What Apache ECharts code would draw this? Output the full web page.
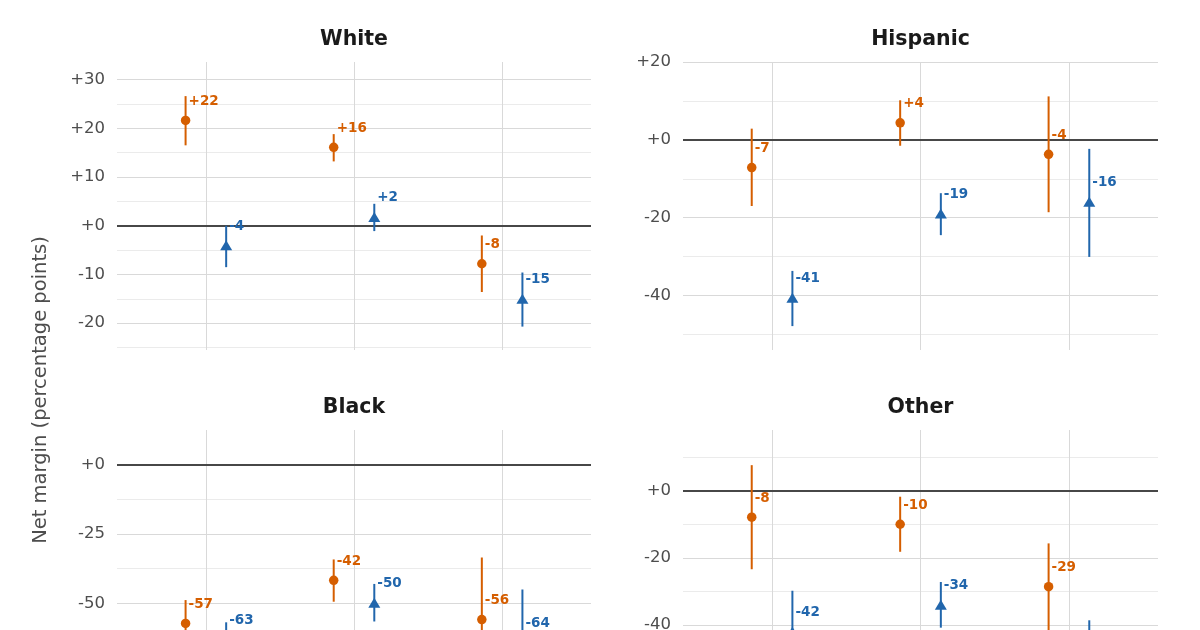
<!DOCTYPE html>
<html>
<head>
<meta charset="utf-8">
<script src="https://cdn.jsdelivr.net/npm/echarts@6/dist/echarts.min.js"></script>
<style>
html,body{margin:0;padding:0;background:#fff;overflow:hidden;width:1200px;height:630px}
#wrap{width:1200px;height:630px;overflow:hidden;position:relative}
#chart{width:1200px;height:790px}
</style>
</head>
<body>
<div id="wrap"><div id="chart"></div></div>
<script>
// ---------- data ----------
const panelTitles = ['White', 'Hispanic', 'Black', 'Other'];
const groupPositions = [1, 2, 3];
const yAxisTitle = 'Net margin (percentage points)';

// orange series (circles): estimate, lower, upper — one row per panel
const orangeMid = [[21.6, 16.1, -7.8], [-7.1, 4.4, -3.7], [-57.2, -41.7, -55.8], [-7.9, -10.0, -28.6]];
const orangeLow = [[16.5, 13.2, -13.6], [-17.0, -1.5, -18.6], [-65.6, -49.4, -78.1], [-23.4, -18.2, -41.5]];
const orangeHigh = [[26.6, 18.8, -2.0], [2.9, 10.2, 11.2], [-48.8, -34.2, -33.5], [7.6, -1.8, -15.7]];

// blue series (triangles): estimate, lower, upper — one row per panel
const blueMid = [[-4.0, 1.8, -15.0], [-40.6, -18.9, -15.9], [-63.0, -49.8, -64.0], [-42.0, -34.0, -52.0]];
const blueLow = [[-8.5, -1.1, -20.7], [-47.9, -24.5, -30.1], [-69.2, -56.5, -83.0], [-54.2, -40.8, -63.0]];
const blueHigh = [[0.0, 4.5, -9.6], [-33.7, -13.7, -2.3], [-56.8, -43.0, -45.0], [-29.8, -27.2, -38.6]];

// y axis ranges and ticks per panel
const yMin = [-25.5, -54.05, -91.2, -67.7];
const yMax = [33.6, 20.05, 12.34, 18.07];
const yMajorTicks = [[-20, -10, 0, 10, 20, 30], [-40, -20, 0, 20], [-75, -50, -25, 0], [-60, -40, -20, 0]];
const yMinorTicks = [[-25, -15, -5, 5, 15, 25], [-50, -30, -10, 10], [-87.5, -62.5, -37.5, -12.5], [-50, -30, -10, 10]];

// ---------- layout / style ----------
const ORANGE = '#D55E00';
const BLUE = '#2166AC';
const FONT = 'DejaVu Sans';
const DODGE = 0.137;
const gridBoxes = [
  { left: 117, top: 62, width: 474, height: 288 },
  { left: 683, top: 62, width: 475, height: 288 },
  { left: 117, top: 430, width: 474, height: 288 },
  { left: 683, top: 430, width: 475, height: 288 }
];
const titleY = [40, 40, 408, 408];

const fmtLabel = v => { const r = Math.round(v); return (r >= 0 ? '+' : '') + r; };

const grids = [], xAxes = [], yAxes = [], series = [], graphics = [];

panelTitles.forEach((title, i) => {
  const g = gridBoxes[i];
  grids.push({ left: g.left, top: g.top, width: g.width, height: g.height, containLabel: false });
  xAxes.push({
    type: 'value', gridIndex: i, min: 0.4, max: 3.6,
    axisLine: { show: false }, axisTick: { show: false }, axisLabel: { show: false }, splitLine: { show: false }
  });
  yAxes.push({
    type: 'value', gridIndex: i, min: yMin[i], max: yMax[i],
    axisLine: { show: false }, axisTick: { show: false }, axisLabel: { show: false }, splitLine: { show: false }
  });

  const lines = [];
  yMinorTicks[i].forEach(v => lines.push({
    yAxis: v, lineStyle: { color: '#ebebeb', width: 1, type: 'solid' }, label: { show: false }
  }));
  groupPositions.forEach(x => lines.push({
    xAxis: x, lineStyle: { color: '#d9d9d9', width: 1, type: 'solid' }, label: { show: false }
  }));
  yMajorTicks[i].forEach(v => lines.push({
    yAxis: v,
    lineStyle: v === 0 ? { color: '#474747', width: 2, type: 'solid' } : { color: '#d9d9d9', width: 1, type: 'solid' },
    label: {
      show: true, position: 'start', distance: 12, formatter: () => (v >= 0 ? '+' : '') + v,
      color: '#4d4d4d', fontSize: 16.5, fontFamily: FONT
    }
  }));

  series.push({
    type: 'scatter', xAxisIndex: i, yAxisIndex: i, data: [], silent: true, z: 1,
    markLine: { silent: true, symbol: 'none', animation: false, precision: 3, z: 1, data: lines }
  });

  const mkBars = (low, high, off, color) => ({
    type: 'custom', xAxisIndex: i, yAxisIndex: i, z: 3, silent: true,
    data: groupPositions.map((x, k) => [x + off, low[i][k], high[i][k]]),
    renderItem: (params, api) => {
      const x = api.value(0);
      const p1 = api.coord([x, api.value(1)]);
      const p2 = api.coord([x, api.value(2)]);
      return { type: 'line', shape: { x1: p1[0], y1: p1[1], x2: p2[0], y2: p2[1] },
               style: { stroke: color, lineWidth: 2 } };
    }
  });
  series.push(mkBars(orangeLow, orangeHigh, -DODGE, ORANGE));
  series.push(mkBars(blueLow, blueHigh, DODGE, BLUE));

  const mkPts = (mid, off, color, symbol, size) => ({
    type: 'scatter', xAxisIndex: i, yAxisIndex: i, z: 4, silent: true,
    symbol: symbol, symbolSize: size,
    itemStyle: { color: color, opacity: 1 },
    data: groupPositions.map((x, k) => [x + off, mid[i][k]]),
    label: {
      show: true, position: 'inside', offset: [3, -19], align: 'left', verticalAlign: 'middle',
      formatter: p => fmtLabel(p.value[1]),
      color: color, fontWeight: 'bold', fontSize: 13.5, fontFamily: FONT,
      textBorderWidth: 0, textBorderColor: 'transparent', textShadowBlur: 0
    }
  });
  series.push(mkPts(orangeMid, -DODGE, ORANGE, 'circle', 9.5));
  series.push(mkPts(blueMid, DODGE, BLUE, 'triangle', [12, 10]));

  graphics.push({
    type: 'text', x: g.left + g.width / 2, y: titleY[i], silent: true,
    style: { text: title, fill: '#1a1a1a', font: 'bold 20.5px "DejaVu Sans"', align: 'center', verticalAlign: 'middle' }
  });
});

graphics.push({
  type: 'text', x: 41, y: 390, rotation: Math.PI / 2, silent: true,
  style: { text: yAxisTitle, fill: '#4d4d4d', font: '19.5px "DejaVu Sans"', align: 'center', verticalAlign: 'middle' }
});

const chart = echarts.init(document.getElementById('chart'), null, { renderer: 'canvas' });
chart.setOption({
  animation: false,
  backgroundColor: '#ffffff',
  grid: grids,
  xAxis: xAxes,
  yAxis: yAxes,
  series: series,
  graphic: graphics
});
</script>
</body>
</html>
